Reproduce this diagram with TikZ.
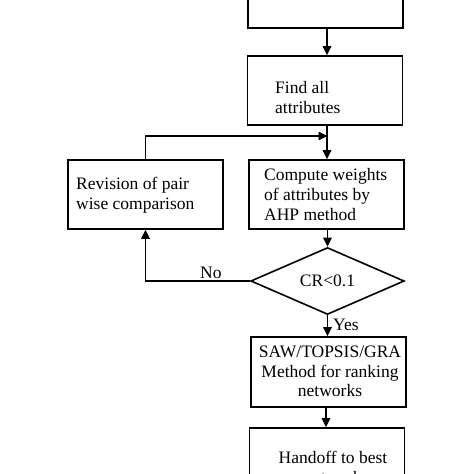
\documentclass[tikz,border=0pt]{standalone}
\usepackage{fontspec}
\setmainfont{Liberation Serif}
\usetikzlibrary{shapes.geometric,arrows.meta}
\tikzset{
  box/.style={draw, line width=1.6pt, inner sep=0pt, minimum width=155pt},
  dec/.style={draw, diamond, line width=1.6pt, inner sep=0pt, minimum width=153.5pt, minimum height=67pt, font=\fontsize{17.5}{20}\selectfont},
  txt/.style={inner sep=0pt, font=\fontsize{17.5}{20}\selectfont},
  conn/.style={line width=1.6pt},
  arr/.style={conn, -{Triangle[length=9pt,width=8.5pt]}},
}
\begin{document}
\begin{tikzpicture}[x=1pt,y=-1pt]
\useasboundingbox (0,0) rectangle (474,474);
\clip (0,0) rectangle (474,474);
\fill[white] (0,0) rectangle (474,474);
% boxes
\node[box, minimum height=78pt] (top) at (325.5,-11) {};
\node[box, minimum height=69pt] (find) at (325,90.5) {};
\node[box, minimum height=69pt] (rev) at (145.5,194.5) {};
\node[box, minimum height=69pt] (comp) at (326.5,194.5) {};
\node[dec] (dia) at (327.5,281) {CR<0.1};
\node[box, minimum height=70pt] (saw) at (328.5,372) {};
\node[box, minimum height=92pt] (hand) at (327,474) {};
% texts
\node[txt, anchor=base west] (f1) at (275,93) {Find all};
\node[txt, anchor=base west] (f2) at (275,113) {attributes};
\node[txt, anchor=base west] (r1) at (76,189) {Revision of pair};
\node[txt, anchor=base west] (r2) at (76,209) {wise comparison};
\node[txt, anchor=base west] (c1) at (264,180.5) {Compute weights};
\node[txt, anchor=base west] (c2) at (264,200.5) {of attributes by};
\node[txt, anchor=base west] (c3) at (264,220.5) {AHP method};
\node[txt, anchor=base] (s1) at (330,357) {SAW/TOPSIS/GRA};
\node[txt, anchor=base] (s2) at (330,377) {Method for ranking};
\node[txt, anchor=base] (s3) at (330,396.5) {networks};
\node[txt, anchor=base] (h1) at (333,463) {Handoff to best};
\node[txt, anchor=base] (h2) at (333,483) {network};
% connectors
\coordinate (fb) at (327.5,136);
\draw[arr] (top.south -| 327,0) -- (find.north -| 327,0);
\draw[arr] (find.south -| 327,0) -- (comp.north -| 327,0);
\draw[arr] (rev.north) -- (rev.north |- fb) -- (fb);
\draw[arr] (comp.south -| dia.north) -- (dia.north);
\draw[arr] (dia.west) -| (rev.south);
\node[txt, anchor=base west] (no) at (200,278) {No};
\draw[arr] (dia.south) -- (dia.south |- saw.north);
\node[txt, anchor=base west] (yes) at (333,330) {Yes};
\draw[arr] (saw.south -| 326,0) -- (hand.north -| 326,0);
\end{tikzpicture}
\end{document}
